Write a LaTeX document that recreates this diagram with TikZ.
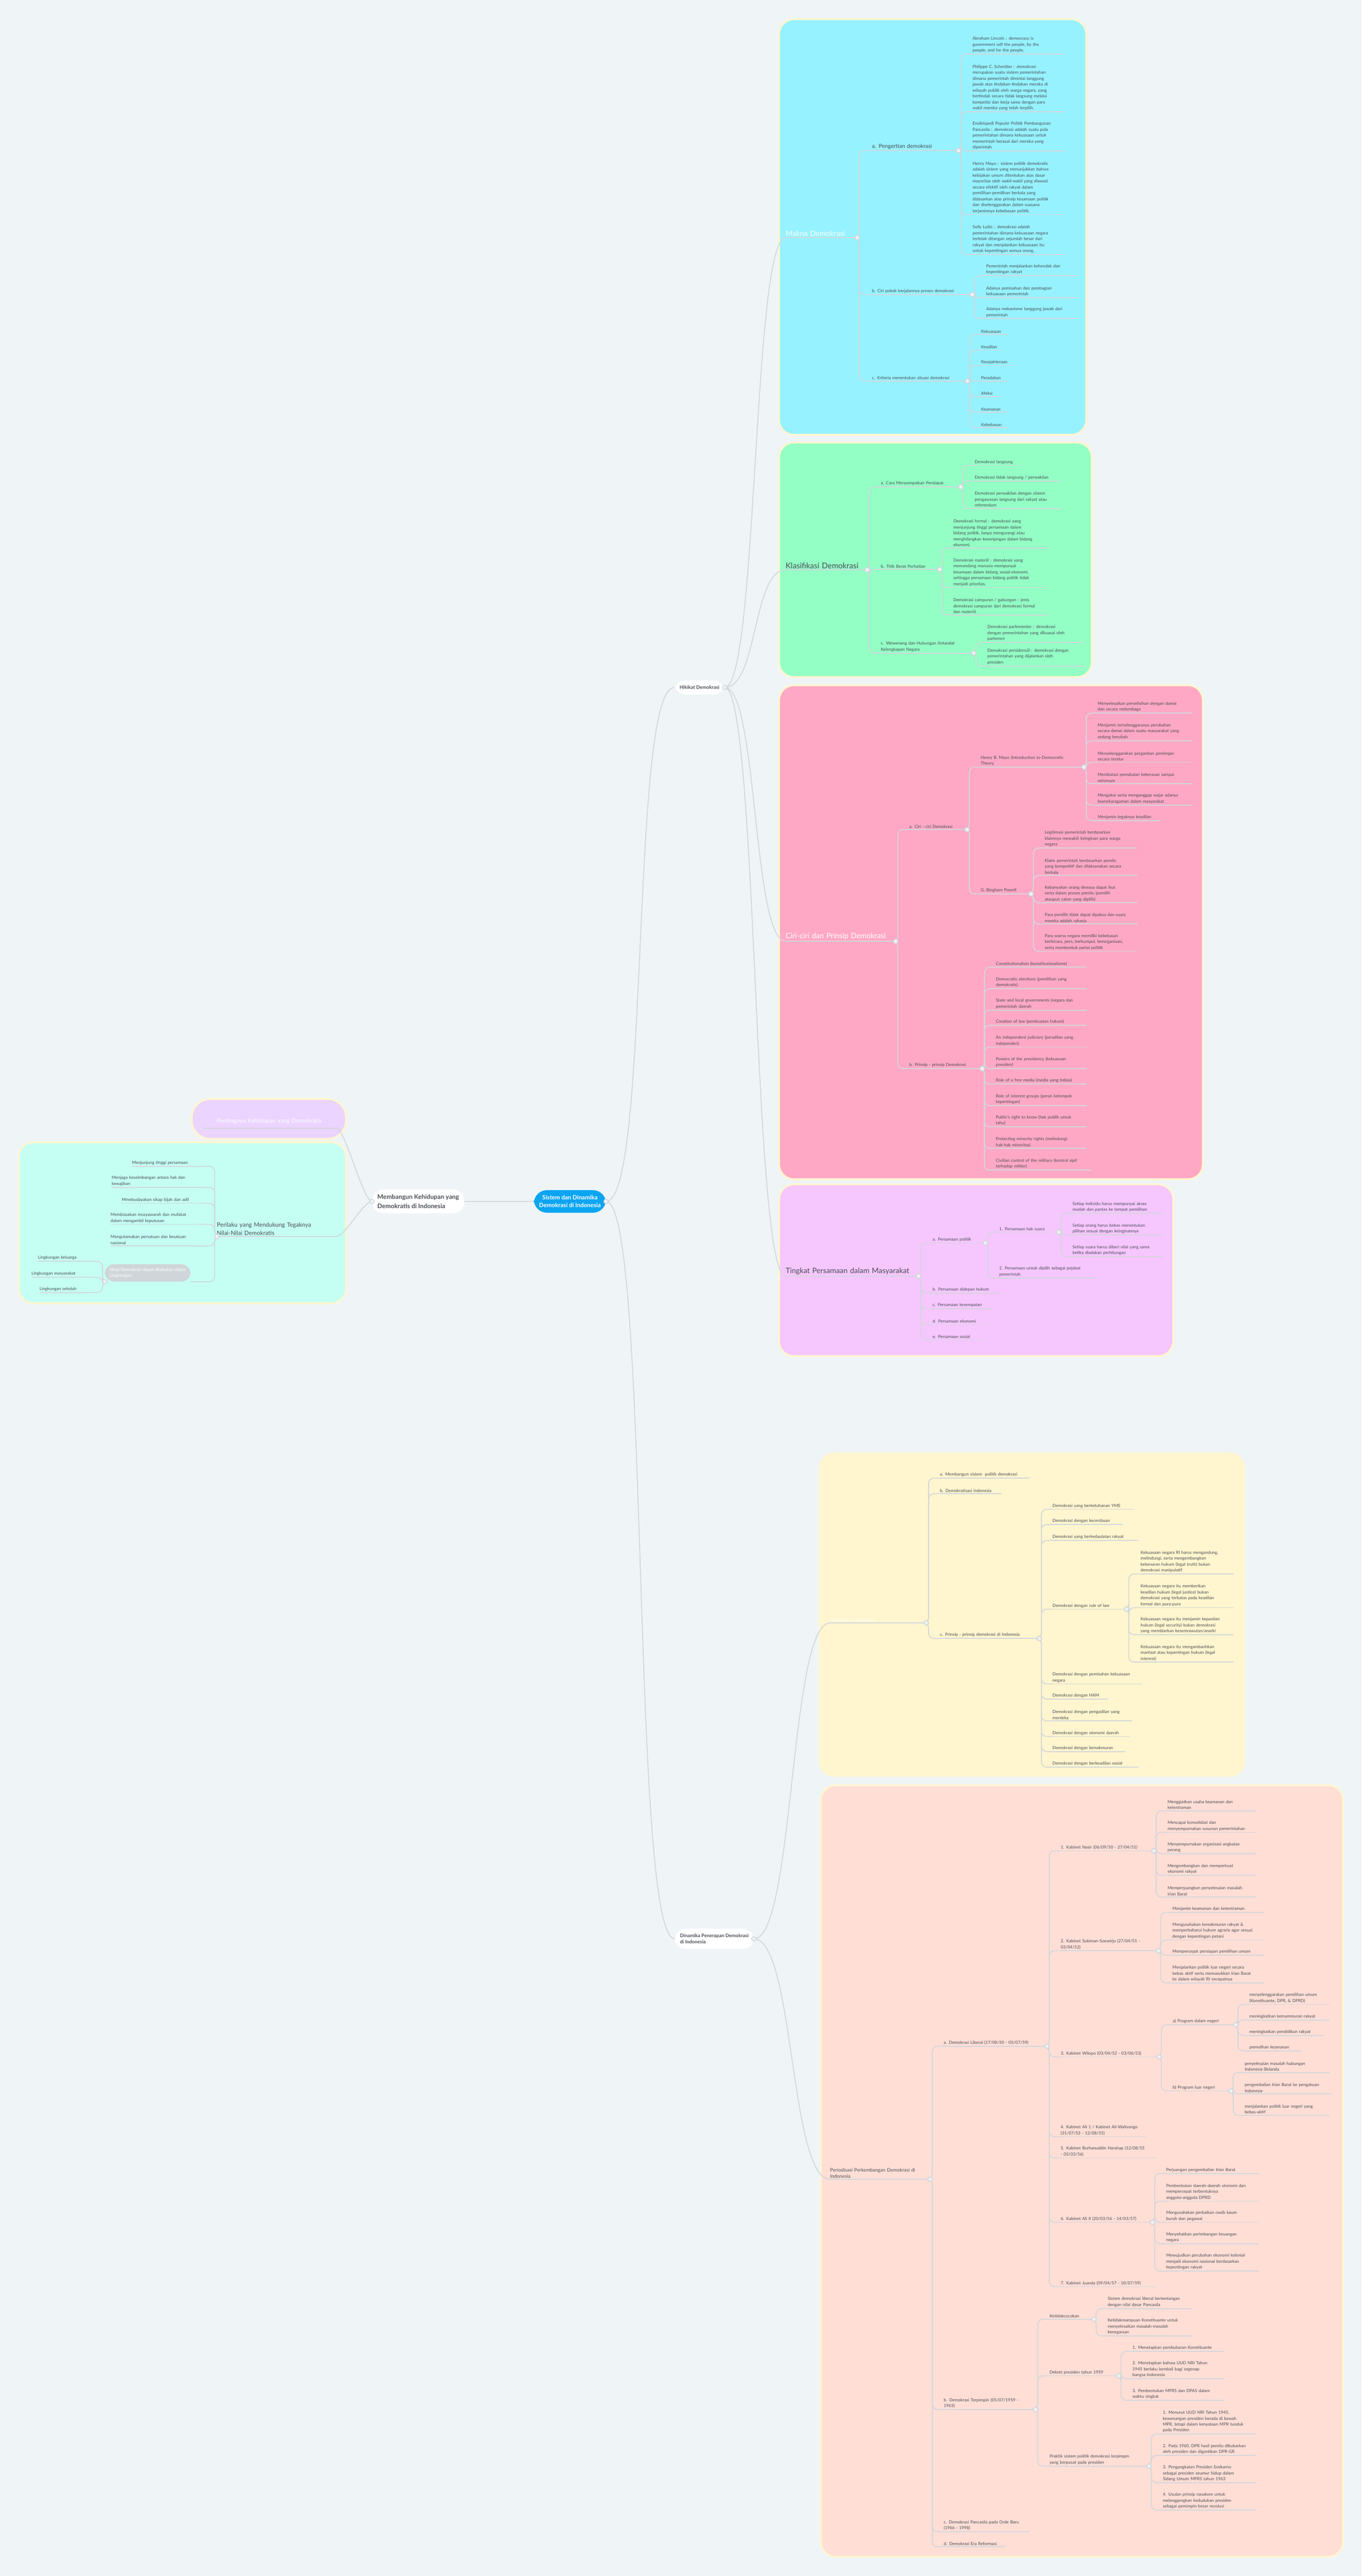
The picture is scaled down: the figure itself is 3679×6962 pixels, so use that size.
\documentclass[tikz,border=0pt]{standalone}
\usepackage{fontspec}
\setmainfont{Lato}
\definecolor{bgc}{HTML}{EFF4F7}
\definecolor{edgec}{HTML}{FFF6CF}
\definecolor{cyanb}{HTML}{96F2FF}
\definecolor{greenb}{HTML}{93FFC5}
\definecolor{pinkb}{HTML}{FFA8C5}
\definecolor{purpb}{HTML}{F6C6FF}
\definecolor{yellb}{HTML}{FFF5CE}
\definecolor{salmb}{HTML}{FFDED6}
\definecolor{lavb}{HTML}{EBD4FF}
\definecolor{lcyb}{HTML}{C5FFF4}
\definecolor{greyp}{HTML}{CFD5D8}
\definecolor{centc}{HTML}{0BA5F2}
\definecolor{linec}{HTML}{D2D7DB}
\definecolor{txt}{HTML}{4A4E55}
\definecolor{jnf}{HTML}{EEF3F5}
\pgfdeclarelayer{fg}
\pgfsetlayers{main,fg}
\tikzset{
 leaf/.style={font=\fontsize{11.5}{16}\selectfont, text=txt, align=left, inner xsep=0pt, inner ysep=4pt, outer sep=0pt, anchor=south west},
 uline/.style={draw=linec, line width=2.5pt},
 conn/.style={draw=linec, line width=2.5pt, rounded corners=14pt},
 mainconn/.style={draw=linec, line width=2.5pt},
 jn/.style={circle, draw=linec, fill=jnf, line width=2pt, minimum size=12pt, inner sep=0pt},
 panel/.style={draw=edgec, line width=5pt, rounded corners=40pt},
 pill/.style={fill=white, rounded corners=30pt, inner xsep=14pt, inner ysep=14pt, text=txt, align=left},
 ttl/.style={leaf, font=\fontsize{20}{26}\selectfont},
 mid/.style={leaf, font=\fontsize{13}{18}\selectfont},
}
\newcommand\nd[6][]{\node[leaf,text width=#5pt,#1] (#2) at (#3,#4) {#6};\draw[uline] (#2.south west) -- (#2.south east);}
\newcommand\lk[2]{\draw[conn] (#1.south east) -- ++(6,0) |- (#2.south west);\begin{pgfonlayer}{fg}\node[jn] at (#1.south east){};\end{pgfonlayer}}
\newcommand\lkL[2]{\draw[conn] (#1.south west) -- ++(-6,0) |- (#2.south east);\begin{pgfonlayer}{fg}\node[jn] at (#1.south west){};\end{pgfonlayer}}
\newcommand\cv[3]{\draw[mainconn] (#1) .. controls ([xshift=#3pt]#1) and ([xshift=-#3pt]#2) .. (#2);}
\begin{document}
\begin{tikzpicture}[x=1pt,y=-1pt]
\useasboundingbox (0,0) rectangle (3679,6962);
\fill[bgc] (0,0) rectangle (3679,6962);
% panels
\draw[panel, fill=cyanb] (2105,52) rectangle (2935,1175);
\draw[panel, fill=greenb] (2105,1196) rectangle (2950,1830);
\draw[panel, fill=pinkb] (2105,1852) rectangle (3250,3187);
\draw[panel, fill=purpb] (2105,3201) rectangle (3170,3665);
\draw[panel, fill=yellb] (2215,3928) rectangle (3362,4800);
\draw[panel, fill=salmb] (2218,4825) rectangle (3629,6910);
\draw[panel, fill=lavb, rounded corners=50pt] (518,2970) rectangle (935,3078);
\draw[panel, fill=lcyb] (51,3087) rectangle (935,3522);

% central and pills
\node[fill=centc, rounded corners=35pt, text=white, font=\fontsize{16}{21}\bfseries, align=center, inner xsep=14pt, inner ysep=14pt] (cen) at (1540,3247) {Sistem dan Dinamika\\Demokrasi di Indonesia};
\node[pill, font=\fontsize{13}{17}\bfseries] (hik) at (1890,1858) {Hikikat Demokrasi};
\node[pill, font=\fontsize{13}{17}\bfseries] (din) at (1930,5240) {Dinamika Penerapan Demokrasi\\di Indonesia};
\node[pill, font=\fontsize{17}{24}\bfseries] (mem) at (1130,3247) {Membangun Kehidupan yang\\Demokratis di Indonesia};
\cv{cen.east}{hik.west}{120}
\cv{cen.east}{din.west}{120}
\draw[mainconn] (cen.west) -- (mem.east);

% ===== Hikikat branch titles
\nd[ttl, text=white]{mak}{2123}{642}{193}{Makna Demokrasi}
\nd[ttl, font=\fontsize{21}{26}\selectfont]{kla}{2123}{1540}{220}{Klasifikasi Demokrasi}
\nd[ttl, text=white]{cir}{2123}{2544}{297}{Ciri-ciri dan Prinsip Demokrasi}
\nd[ttl]{tin}{2123}{3449}{359}{Tingkat Persamaan dalam Masyarakat}
\foreach \t in {mak,kla,cir,tin}{\cv{hik.east}{\t.south west}{90}}
\begin{pgfonlayer}{fg}\node[jn] at (hik.east){};\node[jn] at (cen.east){};\node[jn] at (mem.west){};\node[jn] at (din.east){};\end{pgfonlayer}

% ===== Makna
\nd[mid, font=\fontsize{15}{20}\selectfont]{ma}{2356}{407}{234}{a. Pengertian demokrasi}
\nd{ma1}{2628}{146}{250}{Abraham Lincoln : democracy is\\government odf the people, by the\\people, and for the people.}
\nd{ma2}{2628}{302}{250}{Philippe C. Schmitter : demokrasi\\merupakan suatu sistem pemerintahan\\dimana pemerintah dimintai tanggung\\jawab atas tindakan-tindakan mereka di\\wilayah publik oleh warga negara, yang\\bertindak secara tidak langsung melalui\\kompetisi dan kerja sama dengan para\\wakil mereka yang telah terpilih.}
\nd{ma3}{2628}{408}{250}{Ensiklopedi Populer Politik Pembangunan\\Pancasila : demokrasi adalah suatu pola\\pemerintahan dimana kekuasaan untuk\\memerintah berasal dari mereka yang\\diperintah.}
\nd{ma4}{2628}{580}{250}{Henry Mayo : sistem politik demokratis\\adalah sistem yang menunjukkan bahwa\\kebijakan umum ditentukan atas dasar\\mayoritas oleh wakil-wakil yang diawasi\\secara efektif oleh rakyat dalam\\pemilihan-pemilihan berkala yang\\didasarkan atas prinsip kesamaan politik\\dan diselenggarakan dalam suasana\\terjaminnya kebebasan politik.}
\nd{ma5}{2628}{688}{250}{Solly Lubis : demokrasi adalah\\pemerintahan dimana kekuasaan negara\\terletak ditangan sejumlah besar dari\\rakyat dan menjalankan kekuasaan itu\\untuk kepentingan semua orang.}
\nd{mb}{2356}{796}{271}{b. Ciri pokok berjalannya proses demokrasi}
\nd{mb1}{2665}{745}{245}{Pemerintah menjalankan kehendak dan\\kepentingan rakyat}
\nd{mb2}{2665}{805}{245}{Adanya pemisahan dan pembagian\\kekuasaan pemerintah}
\nd{mb3}{2665}{861}{245}{Adanya mekanisme tanggung jawab dari\\pemerintah}
\nd{mc}{2356}{1030}{258}{c. Kriteria menentukan situasi demokrasi}
\nd{mc1}{2651}{904}{72}{Kekuasaan}
\nd{mc2}{2651}{946}{62}{Keadilan}
\nd{mc3}{2651}{988}{92}{Kesejahteraan}
\nd{mc4}{2651}{1030}{72}{Peradaban}
\nd{mc5}{2651}{1072}{55}{Afeksi}
\nd{mc6}{2651}{1114}{72}{Keamanan}
\nd{mc7}{2651}{1156}{72}{Kebebasan}
\foreach \c in {ma,mb,mc}{\lk{mak}{\c}}
\foreach \c in {1,...,5}{\lk{ma}{ma\c}}
\foreach \c in {1,2,3}{\lk{mb}{mb\c}}
\foreach \c in {1,...,7}{\lk{mc}{mc\c}}

% ===== Klasifikasi
\nd{ka}{2380}{1316}{216}{a. Cara Menyampaikan Pendapat}
\nd{ka1}{2634}{1258}{125}{Demokrasi langsung}
\nd{ka2}{2634}{1300}{230}{Demokrasi tidak langsung / perwakilan}
\nd{ka3}{2634}{1374}{230}{Demokrasi perwakilan dengan sistem\\pengawasan langsung dari rakyat atau\\referendum}
\nd{kb}{2380}{1539}{159}{b. Titik Berat Perhatian}
\nd{kb1}{2576}{1481}{255}{Demokrasi formal : demokrasi yang\\menjunjung tinggi persamaan dalam\\bidang politik, tanpa mengurangi atau\\menghilangkan kesenjangan dalam bidang\\ekonomi.}
\nd{kb2}{2576}{1588}{255}{Demokrasi materiil : demokrasi yang\\memandang manusia mempunyai\\kesamaan dalam bidang sosial-ekonomi,\\sehingga persamaan bidang politik tidak\\menjadi prioritas.}
\nd{kb3}{2576}{1662}{255}{Demokrasi campuran / gabungan : jenis\\demokrasi campuran dari demokrasi formal\\dan materiil.}
\nd{kc}{2380}{1765}{251}{c. Wewenang dan Hubungan Antaralat\\Kelengkapan Negara}
\nd{kc1}{2668}{1736}{262}{Demokrasi parlementer : demokrasi\\dengan pemerintahan yang dikuasai oleh\\parlemen}
\nd{kc2}{2668}{1800}{262}{Demokrasi presidensiil : demokrasi dengan\\pemerintahan yang dijalankan oleh\\presiden}
\foreach \c in {ka,kb,kc}{\lk{kla}{\c}}
\foreach \c in {1,2,3}{\lk{ka}{ka\c}\lk{kb}{kb\c}}
\foreach \c in {1,2}{\lk{kc}{kc\c}}

% ===== Ciri-ciri
\nd{ca}{2457}{2242}{156}{a. Ciri - ciri Demokrasi}
\nd{cm}{2650}{2073}{279}{Henry B. Mayo (Introduction to Democratic\\Theory}
\nd{cm1}{2966}{1927}{256}{Menyelesaikan perselisihan dengan damai\\dan secara melembaga}
\nd{cm2}{2966}{2002}{256}{Menjamin terselenggaranya perubahan\\secara damai dalam suatu masyarakat yang\\sedang berubah}
\nd{cm3}{2966}{2060}{256}{Menyelenggarakan pergantian pemimpin\\secara teratur}
\nd{cm4}{2966}{2118}{256}{Membatasi pemakaian kekerasan sampai\\minimum}
\nd{cm5}{2966}{2176}{256}{Mengakui serta menganggap wajar adanya\\keanekaragaman dalam masyarakat}
\nd{cm6}{2966}{2218}{170}{Menjamin tegaknya keadilan}
\nd{cp}{2650}{2416}{136}{G. Bingham Powell}
\nd{cp1}{2823}{2292}{250}{Legitimasi pemerintah berdasarkan\\klaimnya mewakili keinginan para warga\\negara}
\nd{cp2}{2823}{2366}{250}{Klaim pemerintah berdasarkan pemilu\\yang kompetitif dan dilaksanakan secara\\berkala}
\nd{cp3}{2823}{2440}{250}{Kebanyakan orang dewasa dapat ikut\\serta dalam proses pemilu (pemilih\\ataupun calon yang dipilih)}
\nd{cp4}{2823}{2497}{250}{Para pemilih tidak dapat dipaksa dan suara\\mereka adalah rahasia}
\nd{cp5}{2823}{2571}{250}{Para warna negara memiliki kebebasan\\berbicara, pers, berkumpul, berorganisasi,\\serta membentuk partai politik}
\nd{cb}{2457}{2888}{197}{b. Prinsip - prinsip Demokrasi}
\nd{cb1}{2691}{2614}{245}{Constitutionalism (konstitusionalisme)}
\nd{cb2}{2691}{2672}{245}{Democratic elections (pemilihan yang\\demokratis)}
\nd{cb3}{2691}{2730}{245}{State and local governments (negara dan\\pemerintah daerah}
\nd{cb4}{2691}{2771}{245}{Creation of law (pembuatan hukum)}
\nd{cb5}{2691}{2830}{245}{An independent judiciary (peradilan yang\\independen)}
\nd{cb6}{2691}{2888}{245}{Powers of the presidency (kekuasaan\\presiden)}
\nd{cb7}{2691}{2930}{245}{Role of a free media (media yang bebas)}
\nd{cb8}{2691}{2988}{245}{Role of interest groups (peran kelompok\\kepentingan)}
\nd{cb9}{2691}{3045}{245}{Public's right to know (hak publik untuk\\tahu)}
\nd{cb10}{2691}{3104}{245}{Protecting minority rights (melindungi\\hak-hak minoritas)}
\nd{cb11}{2691}{3162}{255}{Civilian control of the military (kontrol sipil\\terhadap militer)}
\foreach \c in {ca,cb}{\lk{cir}{\c}}
\foreach \c in {cm,cp}{\lk{ca}{\c}}
\foreach \c in {1,...,6}{\lk{cm}{cm\c}}
\foreach \c in {1,...,5}{\lk{cp}{cp\c}}
\foreach \c in {1,...,11}{\lk{cb}{cb\c}}

% ===== Tingkat Persamaan
\nd{ta}{2520}{3359}{143}{a. Persamaan politik}
\nd{t1}{2700}{3330}{161}{1. Persamaan hak suara}
\nd{t11}{2898}{3279}{245}{Setiap individu harus mempunyai akses\\mudah dan pantas ke tempat pemilihan}
\nd{t12}{2898}{3338}{245}{Setiap orang harus bebas menentukan\\pilihan sesuai dengan keinginannya}
\nd{t13}{2898}{3396}{245}{Setiap suara harus diberi nilai yang sama\\ketika diadakan perhitungan}
\nd{t2}{2700}{3454}{260}{2. Persamaan untuk dipilih sebagai pejabat\\pemerintah}
\nd{tb}{2520}{3495}{180}{b. Persamaan didepan hukum}
\nd{tc}{2520}{3537}{160}{c. Persamaan kesempatan}
\nd{td}{2520}{3579}{150}{d. Persamaan ekonomi}
\nd{te}{2520}{3621}{140}{e. Persamaan sosial}
\foreach \c in {ta,tb,tc,td,te}{\lk{tin}{\c}}
\foreach \c in {t1,t2}{\lk{ta}{\c}}
\foreach \c in {1,2,3}{\lk{t1}{t1\c}}

% ===== Dinamika: yellow
\nd[text=white]{yt}{2243}{4386}{260}{Demokrasi di Indonesia}
\nd{ya}{2540}{3995}{240}{a. Membangun sistem \ politik demokrasi}
\nd{yb}{2540}{4037}{165}{b. Demokratisasi Indonesia}
\nd{yc}{2540}{4428}{268}{c. Prinsip - prinsip demokrasi di Indonesia}
\nd{y1}{2844}{4079}{220}{Demokrasi yang berketuhanan YME}
\nd{y2}{2844}{4120}{190}{Demokrasi dengan kecerdasan}
\nd{y3}{2844}{4163}{230}{Demokrasi yang berkedaulatan rakyat}
\nd{y4}{2844}{4349}{200}{Demokrasi dengan rule of law}
\nd{y5}{2844}{4551}{242}{Demokrasi dengan pemisahan kekuasaan\\negara}
\nd{y6}{2844}{4592}{150}{Demokrasi dengan HAM}
\nd{y7}{2844}{4651}{215}{Demokrasi dengan pengadilan yang\\merdeka}
\nd{y8}{2844}{4693}{210}{Demokrasi dengan otonomi daerah}
\nd{y9}{2844}{4734}{195}{Demokrasi dengan kemakmuran}
\nd{y10}{2844}{4776}{232}{Demokrasi dengan berkeadilan sosial}
\nd{y41}{3082}{4254}{252}{Kekuasaan negara RI harus mengandung,\\melindungi, serta mengembangkan\\kebenaran hukum (legal truth) bukan\\demokrasi manipulatif}
\nd{y42}{3082}{4345}{252}{Kekuasaan negara itu memberikan\\keadilan hukum (legal justice) bukan\\demokrasi yang terbatas pada keadilan\\formal dan pura-pura}
\nd{y43}{3082}{4418}{252}{Kekuasaan negara itu menjamin kepastian\\hukum (legal security) bukan demokrasi\\yang membiarkan kesemrawutan/anarki}
\nd{y44}{3082}{4492}{252}{Kekuasaan negara itu mengambanhkan\\manfaat atau kepentingan hukum (legal\\interest)}
\foreach \c in {ya,yb,yc}{\lk{yt}{\c}}
\foreach \c in {1,...,10}{\lk{yc}{y\c}}
\foreach \c in {1,...,4}{\lk{y4}{y4\c}}

% ===== Dinamika: salmon
\nd[font=\fontsize{13}{17}\selectfont]{pe}{2243}{5890}{270}{Periodisasi Perkembangan Demokrasi di\\Indonesia}
\cv{din.east}{yt.south west}{110}
\cv{din.east}{pe.south west}{110}
\nd{sa}{2550}{5530}{279}{a. Demokrasi Liberal (17/08/50 - 05/07/59)}
\nd{s1}{2866}{5002}{252}{1. Kabinet Nasir (06/09/50 - 27/04/51)}
\nd{s11}{3155}{4894}{240}{Menggiatkan usaha keamanan dan\\ketentraman}
\nd{s12}{3155}{4952}{240}{Mencapai konsolidasi dan\\menyempurnakan susunan pemerintahan}
\nd{s13}{3155}{5010}{240}{Menyempurnakan organisasi angkatan\\perang}
\nd{s14}{3155}{5068}{240}{Mengembangkan dan memperkuat\\ekonomi rakyat}
\nd{s15}{3155}{5127}{240}{Memperjuangkan penyelesaian masalah\\Irian Barat}
\nd{s2}{2866}{5272}{264}{2. Kabinet Sukiman-Soewirjo (27/04/51 -\\03/04/52)}
\nd{s21}{3168}{5169}{248}{Menjamin keamanan dan ketentraman}
\nd{s22}{3168}{5243}{248}{Mengusahakan kemakmuran rakyat \&\\memperbaharui hukum agraria agar sesuai\\dengan kepentingan petani}
\nd{s23}{3168}{5284}{248}{Mempercepat persiapan pemilihan umum}
\nd{s24}{3168}{5359}{248}{Menjalankan politik luar negeri secara\\bebas aktif serta memasukkan Irian Barat\\ke dalam wilayah RI secepatnya}
\nd{s3}{2866}{5559}{266}{3. Kabinet Wilopo (03/04/52 - 03/06/53)}
\nd{s3a}{3169}{5472}{170}{a) Program dalam negeri}
\nd{s3a1}{3376}{5417}{216}{menyelenggarakan pemilihan umum\\(Konstituante, DPR, \& DPRD)}
\nd{s3a2}{3376}{5459}{216}{meningkatkan kemammuran rakyat}
\nd{s3a3}{3376}{5501}{200}{meningkatkan pendidikan rakyat}
\nd{s3a4}{3376}{5543}{140}{pemulihan keamanan}
\nd{s3b}{3169}{5651}{157}{b) Program luar negeri}
\nd{s3b1}{3363}{5601}{230}{penyelesaian masalah hubungan\\Indonesia-Belanda}
\nd{s3b2}{3363}{5659}{235}{pengembalian Irian Barat ke pengakuan\\Indonesia}
\nd{s3b3}{3363}{5717}{230}{menjalankan politik luar negeri yang\\bebas-aktif}
\nd{s4}{2866}{5775}{231}{4. Kabinet Ali 1 / Kabinet Ali-Walisongo\\(31/07/53 - 12/08/55)}
\nd{s5}{2866}{5832}{256}{5. Kabinet Burhanuddin Harahap (12/08/55\\- 03/03/56)}
\nd{s6}{2866}{6006}{248}{6. Kabinet Ali II (20/03/56 - 14/03/57)}
\nd{s61}{3151}{5874}{251}{Perjuangan pengembalian Irian Barat}
\nd{s62}{3151}{5949}{251}{Pembentukan daerah-daerah otonomi dan\\mempercepat terbentuknya\\anggota-anggota DPRD}
\nd{s63}{3151}{6006}{251}{Mengusahakan perbaikan nasib kaum\\buruh dan pegawai}
\nd{s64}{3151}{6064}{251}{Menyehatkan perimbangan keuangan\\negara}
\nd{s65}{3151}{6138}{251}{Mewujudkan perubahan ekonomi kolonial\\menjadi ekonomi nasional berdasarkan\\kepentingan rakyat}
\nd{s7}{2866}{6180}{256}{7. Kabinet Juanda (09/04/57 - 10/07/59)}
\nd{sb}{2550}{6512}{248}{b. Demokrasi Terpimpin (05/07/1959 -\\1965)}
\nd{sbk}{2836}{6268}{120}{Ketidakcocokan}
\nd{sbk1}{2993}{6239}{229}{Sistem demokrasi liberal bertentangan\\dengan nilai dasar Pancasila}
\nd{sbk2}{2993}{6313}{229}{Ketidakmampuan Konstituante untuk\\menyelesaikan masalah-masalah\\kenegaraan}
\nd{sbd}{2836}{6421}{187}{Dekret presiden tahun 1959}
\nd{sbd1}{3060}{6355}{245}{1. Menetapkan pembubaran Konstituante}
\nd{sbd2}{3060}{6429}{245}{2. Menetapkan bahwa UUD NRI Tahun\\1945 berlaku kembali bagi segenap\\bangsa Indonesia}
\nd{sbd3}{3060}{6487}{245}{3. Pembentukan MPRS dan DPAS dalam\\waktu singkat}
\nd{sbp}{2836}{6665}{269}{Praktik sistem politik demokrasi terpimpin\\yang berpusat pada presiden}
\nd{sbp1}{3142}{6578}{251}{1. Menurut UUD NRI Tahun 1945,\\kewenangan presiden berada di bawah\\MPR, tetapi dalam kenyataan MPR tunduk\\pada Presiden}
\nd{sbp2}{3142}{6636}{251}{2. Pada 1960, DPR hasil pemilu dibubarkan\\oleh presiden dan digantikan DPR-GR}
\nd{sbp3}{3142}{6710}{251}{3. Pengangkatan Presiden Soekarno\\sebagai presiden seumur hidup dalam\\Sidang Umum MPRS tahun 1963}
\nd{sbp4}{3142}{6784}{251}{4. Usulan prinsip nasakom untuk\\melanggengkan kedudukan presiden\\sebagai pemimpin besar revolusi}
\nd{sc}{2550}{6842}{231}{c. Demokrasi Pancasila pada Orde Baru\\(1966 - 1998)}
\nd{sd}{2550}{6883}{166}{d. Demokrasi Era Reformasi}
\foreach \c in {sa,sb,sc,sd}{\lk{pe}{\c}}
\foreach \c in {1,...,7}{\lk{sa}{s\c}}
\foreach \c in {1,...,5}{\lk{s1}{s1\c}\lk{s6}{s6\c}}
\foreach \c in {1,...,4}{\lk{s2}{s2\c}\lk{s3a}{s3a\c}\lk{sbp}{sbp\c}}
\foreach \c in {a,b}{\lk{s3}{s3\c}}
\foreach \c in {1,2,3}{\lk{s3b}{s3b\c}\lk{sbd}{sbd\c}}
\foreach \c in {sbk,sbd,sbp}{\lk{sb}{\c}}
\foreach \c in {1,2}{\lk{sbk}{sbk\c}}

% ===== Left side
\node[leaf, text width=361pt, align=center, text=white, font=\fontsize{16}{21}\selectfont, inner ysep=12pt] (pen) at (547,3049) {Pentingnya Kehidupan yang Demokratis};
\draw[uline] (pen.south west) -- (pen.south east);
\nd[font=\fontsize{16}{22}\selectfont]{per}{586}{3342}{322}{Perilaku yang Mendukung Tegaknya\\Nilai-Nilai Demokratis}
\cv{pen.south east}{mem.west}{25}
\cv{per.south east}{mem.west}{25}
\nd[anchor=south east]{l1}{537}{3152}{180}{Menjunjung tinggi persamaan}
\nd[anchor=south east]{l2}{537}{3209}{235}{Menjaga keseimbangan antara hak dan\\kewajiban}
\nd[anchor=south east]{l3}{537}{3252}{208}{Mmebudayakan sikap bijak dan adil}
\nd[anchor=south east]{l4}{537}{3309}{238}{Membiasakan musyawarah dan mufakat\\dalam mengambil keputusan}
\nd[anchor=south east]{l5}{537}{3367}{238}{Mengutamakan persatuan dan kesatuan\\nasional}
\node[fill=greyp, rounded corners=26pt, text=white, font=\fontsize{12}{16}\selectfont, align=left, inner xsep=12pt, inner ysep=10pt, anchor=south west] (sik) at (283,3464) {Sikap Demokrasi dapat dilakukan dalam\\Lingkungan..};
\nd[anchor=south east]{m1}{235}{3409}{132}{Lingkungan keluarga}
\nd[anchor=south east]{m2}{235}{3452}{150}{Lingkungan masyarakat}
\nd[anchor=south east]{m3}{235}{3493}{128}{Lingkungan sekolah}
\foreach \c in {l1,l2,l3,l4,l5,sik}{\lkL{per}{\c}}
\foreach \c in {m1,m2,m3}{\lkL{sik}{\c}}
\end{tikzpicture}
\end{document}
